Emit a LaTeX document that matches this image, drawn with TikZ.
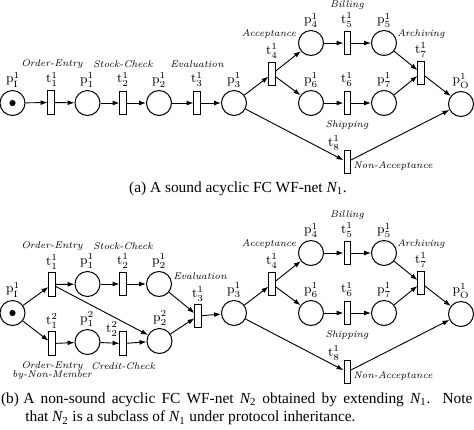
\documentclass[tikz,border=0pt]{standalone}
\usepackage{fontspec}
\newfontfamily\capfont{Liberation Serif}
\usetikzlibrary{arrows.meta}

\tikzset{
	place/.style={circle, draw, line width=0.65pt, minimum size=16.25pt, inner sep=0pt},
	trans/.style={rectangle, draw, line width=0.65pt, minimum width=3.9pt, minimum height=15pt, inner sep=0pt},
	token/.style={circle, fill=black, minimum size=4pt, inner sep=0pt},
	arc/.style={-{Latex[length=4.5pt,width=3.2pt]}, line width=0.6pt},
	act/.style={font=\fontsize{6.3}{7}\selectfont\itshape, inner sep=0pt},
	lbl/.style={font=\fontsize{8.5}{10}\selectfont, inner sep=0pt},
	captxt/.style={font=\capfont, inner sep=0pt},
}

\begin{document}
\begin{tikzpicture}[x=0.65pt, y=-0.65pt]
	\useasboundingbox (0,0) rectangle (474,429);

	% (a) the sound net
	\node[place](pInA) at (12.5,103){};
	\node[token](tokA) at (12.5,103){};
	\node[trans](tOneA) at (51,102.5){};
	\node[place](pOneA) at (87.5,103){};
	\node[trans](tTwoA) at (123,103){};
	\node[place](pTwoA) at (159,103){};
	\node[trans](tThreeA) at (197,103){};
	\node[place](pThreeA) at (234,103){};
	\node[trans](tFourA) at (272,74){};
	\node[place](pFourA) at (311,43){};
	\node[trans](tFiveA) at (347,43){};
	\node[place](pFiveA) at (384,43){};
	\node[place](pSixA) at (311,103){};
	\node[trans](tSixA) at (347,103){};
	\node[place](pSevenA) at (384,103){};
	\node[trans](tSevenA) at (421,73){};
	\node[place](pOutA) at (461,104){};
	\node[trans](tEightA) at (347,162){};

	\node[lbl](pInALbl) at (13,80){$\mathrm{p}^1_\mathrm{I}$};
	\node[lbl](tOneALbl) at (52,79.5){$\mathrm{t}^1_1$};
	\node[lbl](pOneALbl) at (87,80){$\mathrm{p}^1_1$};
	\node[lbl](tTwoALbl) at (123,79.5){$\mathrm{t}^1_2$};
	\node[lbl](pTwoALbl) at (159,80){$\mathrm{p}^1_2$};
	\node[lbl](tThreeALbl) at (197,79.5){$\mathrm{t}^1_3$};
	\node[lbl](pThreeALbl) at (234,80){$\mathrm{p}^1_3$};
	\node[lbl](tFourALbl) at (272,51){$\mathrm{t}^1_4$};
	\node[lbl](pFourALbl) at (311,20.5){$\mathrm{p}^1_4$};
	\node[lbl](tFiveALbl) at (347,20){$\mathrm{t}^1_5$};
	\node[lbl](pFiveALbl) at (384,20.5){$\mathrm{p}^1_5$};
	\node[lbl](pSixALbl) at (311,80){$\mathrm{p}^1_6$};
	\node[lbl](tSixALbl) at (347,79.5){$\mathrm{t}^1_6$};
	\node[lbl](pSevenALbl) at (384,80){$\mathrm{p}^1_7$};
	\node[lbl](tSevenALbl) at (421,50){$\mathrm{t}^1_7$};
	\node[lbl](pOutALbl) at (461,81){$\mathrm{p}^1_\mathrm{O}$};
	\node[lbl](tEightALbl) at (334,143){$\mathrm{t}^1_8$};

	\node[act](orderA) at (52,64){Order-Entry};
	\node[act](stockA) at (123,64){Stock-Check};
	\node[act](evalA) at (197,64){Evaluation};
	\node[act](acceptA) at (269,34){Acceptance};
	\node[act](billA) at (347,5){Billing};
	\node[act](archA) at (421,34){Archiving};
	\node[act](shipA) at (347,125){Shipping};
	\node[act, anchor=west](nonAccA) at (353,166){Non-Acceptance};

	\draw[arc](pInA) -- (tOneA);
	\draw[arc](tOneA) -- (pOneA);
	\draw[arc](pOneA) -- (tTwoA);
	\draw[arc](tTwoA) -- (pTwoA);
	\draw[arc](pTwoA) -- (tThreeA);
	\draw[arc](tThreeA) -- (pThreeA);
	\draw[arc](pThreeA) -- (tFourA);
	\draw[arc](pThreeA) -- (tEightA);
	\draw[arc](tFourA) -- (pFourA);
	\draw[arc](tFourA) -- (pSixA);
	\draw[arc](pFourA) -- (tFiveA);
	\draw[arc](tFiveA) -- (pFiveA);
	\draw[arc](pSixA) -- (tSixA);
	\draw[arc](tSixA) -- (pSevenA);
	\draw[arc](pFiveA) -- (tSevenA);
	\draw[arc](pSevenA) -- (tSevenA);
	\draw[arc](tSevenA) -- (pOutA);
	\draw[arc](tEightA) -- (pOutA);

	\node[captxt](capA) at (238,189){(a) A sound acyclic FC WF-net {\itshape N}\textsubscript{1}.};

	% (b) the extended net
	\node[place](pInB) at (12.5,313){};
	\node[token](tokB) at (12.5,313){};
	\node[trans](tOneB) at (52,284.5){};
	\node[place](pOneB) at (87.5,284){};
	\node[trans](tTwoB) at (123,284){};
	\node[place](pTwoB) at (159,284){};
	\node[trans](tOneTwoB) at (52,343.5){};
	\node[place](pOneTwoB) at (87.5,342){};
	\node[trans](tTwoTwoB) at (123,343.5){};
	\node[place](pTwoTwoB) at (159.5,341){};
	\node[trans](tThreeB) at (198,316){};
	\node[place](pThreeB) at (234,313){};
	\node[trans](tFourB) at (272,284){};
	\node[place](pFourB) at (311,253){};
	\node[trans](tFiveB) at (347,253){};
	\node[place](pFiveB) at (384,253){};
	\node[place](pSixB) at (311,313){};
	\node[trans](tSixB) at (347,313){};
	\node[place](pSevenB) at (384,313){};
	\node[trans](tSevenB) at (421,283){};
	\node[place](pOutB) at (461,314){};
	\node[trans](tEightB) at (347,372){};

	\node[lbl](pInBLbl) at (13,290){$\mathrm{p}^1_\mathrm{I}$};
	\node[lbl](tOneBLbl) at (52,262){$\mathrm{t}^1_1$};
	\node[lbl](pOneBLbl) at (87,261){$\mathrm{p}^1_1$};
	\node[lbl](tTwoBLbl) at (123,261){$\mathrm{t}^1_2$};
	\node[lbl](pTwoBLbl) at (159,261){$\mathrm{p}^1_2$};
	\node[lbl](tOneTwoBLbl) at (52,321){$\mathrm{t}^2_1$};
	\node[lbl](pOneTwoBLbl) at (87,319){$\mathrm{p}^2_1$};
	\node[lbl](tTwoTwoBLbl) at (112,329){$\mathrm{t}^2_2$};
	\node[lbl](pTwoTwoBLbl) at (160,318){$\mathrm{p}^2_2$};
	\node[lbl](tThreeBLbl) at (198,294){$\mathrm{t}^1_3$};
	\node[lbl](pThreeBLbl) at (234,290){$\mathrm{p}^1_3$};
	\node[lbl](tFourBLbl) at (272,261){$\mathrm{t}^1_4$};
	\node[lbl](pFourBLbl) at (311,230.5){$\mathrm{p}^1_4$};
	\node[lbl](tFiveBLbl) at (347,230){$\mathrm{t}^1_5$};
	\node[lbl](pFiveBLbl) at (384,230.5){$\mathrm{p}^1_5$};
	\node[lbl](pSixBLbl) at (311,290){$\mathrm{p}^1_6$};
	\node[lbl](tSixBLbl) at (347,289.5){$\mathrm{t}^1_6$};
	\node[lbl](pSevenBLbl) at (384,290){$\mathrm{p}^1_7$};
	\node[lbl](tSevenBLbl) at (421,260){$\mathrm{t}^1_7$};
	\node[lbl](pOutBLbl) at (461,291){$\mathrm{p}^1_\mathrm{O}$};
	\node[lbl](tEightBLbl) at (334,353){$\mathrm{t}^1_8$};

	\node[act](orderB) at (52,246){Order-Entry};
	\node[act](stockB) at (123,246){Stock-Check};
	\node[act](evalB) at (200,276){Evaluation};
	\node[act](orderNonB) at (52,366){Order-Entry};
	\node[act](orderNonBTwo) at (52,375){by-Non-Member};
	\node[act](creditB) at (123,366){Credit-Check};
	\node[act](acceptB) at (269,244){Acceptance};
	\node[act](billB) at (347,215){Billing};
	\node[act](archB) at (421,244){Archiving};
	\node[act](shipB) at (347,335){Shipping};
	\node[act, anchor=west](nonAccB) at (353,376){Non-Acceptance};

	\draw[arc](pInB) -- (tOneB);
	\draw[arc](pInB) -- (tOneTwoB);
	\draw[arc](tOneB) -- (pOneB);
	\draw[arc](tOneB) -- (pTwoTwoB);
	\draw[arc](pOneB) -- (tTwoB);
	\draw[arc](tTwoB) -- (pTwoB);
	\draw[arc](tOneTwoB) -- (pOneTwoB);
	\draw[arc](pOneTwoB) -- (tTwoTwoB);
	\draw[arc](tTwoTwoB) -- (pTwoTwoB);
	\draw[arc](pTwoB) -- (tThreeB);
	\draw[arc](pTwoTwoB) -- (tThreeB);
	\draw[arc](tThreeB) -- (pThreeB);
	\draw[arc](pThreeB) -- (tFourB);
	\draw[arc](pThreeB) -- (tEightB);
	\draw[arc](tFourB) -- (pFourB);
	\draw[arc](tFourB) -- (pSixB);
	\draw[arc](pFourB) -- (tFiveB);
	\draw[arc](tFiveB) -- (pFiveB);
	\draw[arc](pSixB) -- (tSixB);
	\draw[arc](tSixB) -- (pSevenB);
	\draw[arc](pFiveB) -- (tSevenB);
	\draw[arc](pSevenB) -- (tSevenB);
	\draw[arc](tSevenB) -- (pOutB);
	\draw[arc](tEightB) -- (pOutB);

	\node[captxt](capBTag) at (10,400){(b)};
	\node[captxt, anchor=west](capBOne) at (23,400){\makebox[292pt][s]{A non-sound acyclic FC WF-net {\itshape N}\textsubscript{2} obtained by extending {\itshape N}\textsubscript{1}. Note}};
	\node[captxt, anchor=west](capBTwo) at (25,418){that {\itshape N}\textsubscript{2} is a subclass of {\itshape N}\textsubscript{1} under protocol inheritance.};
\end{tikzpicture}
\end{document}
